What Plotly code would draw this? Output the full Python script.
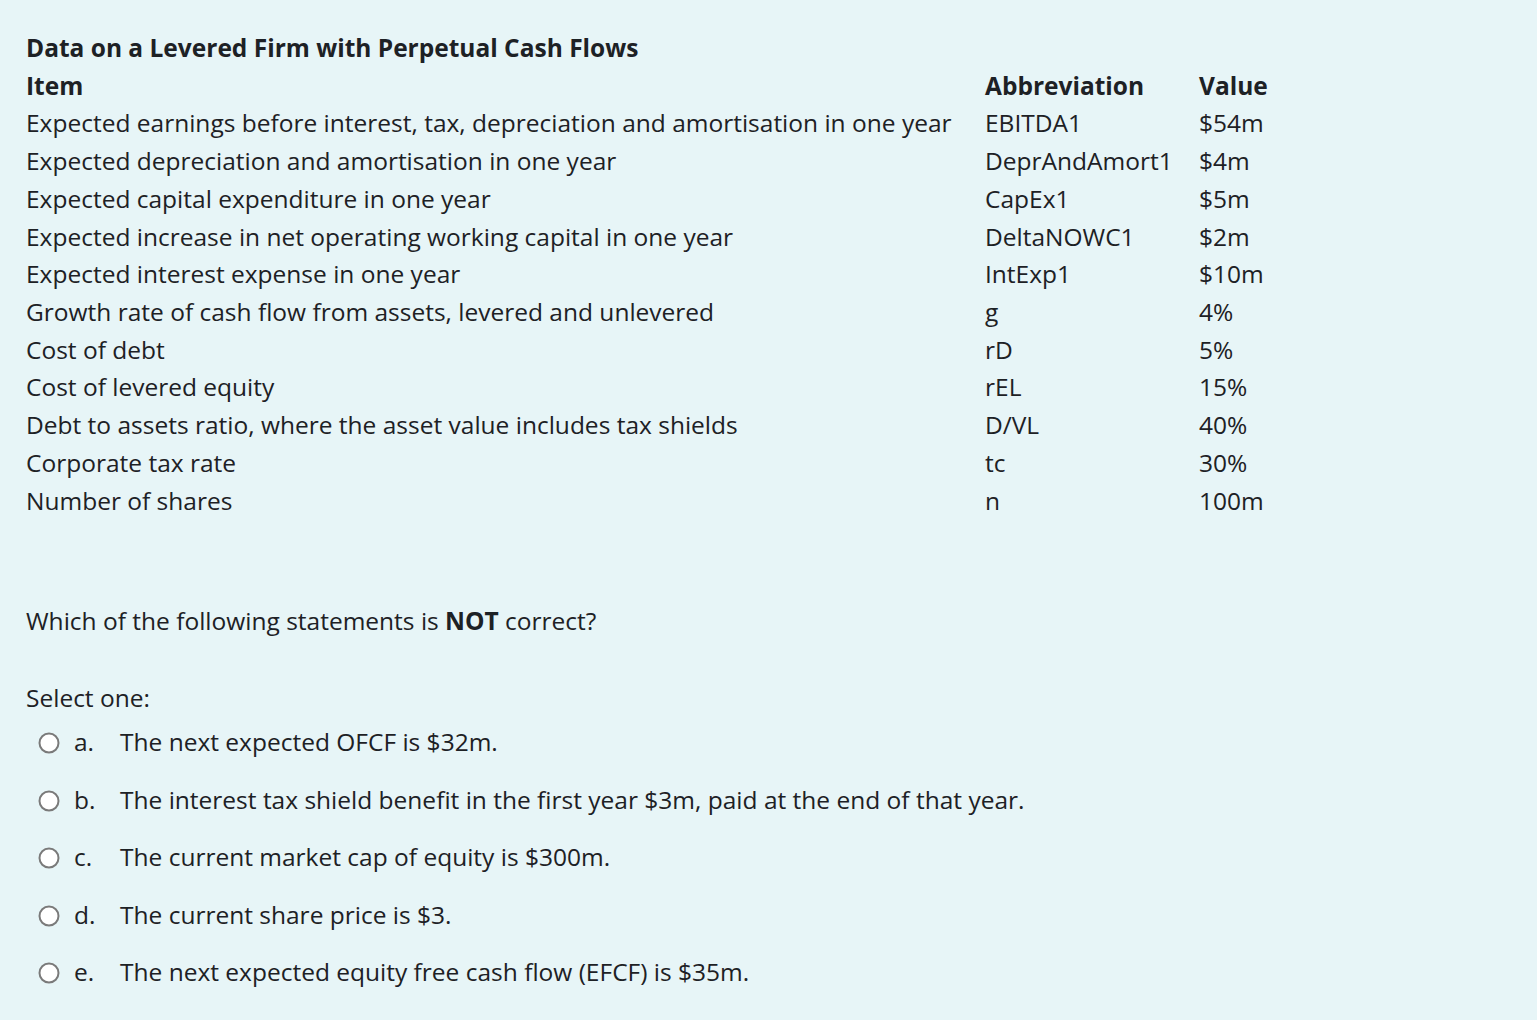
import plotly.graph_objects as go

title = "Data on a Levered Firm with Perpetual Cash Flows"
headers = ["Item", "Abbreviation", "Value"]
items = [
    "Expected earnings before interest, tax, depreciation and amortisation in one year",
    "Expected depreciation and amortisation in one year",
    "Expected capital expenditure in one year",
    "Expected increase in net operating working capital in one year",
    "Expected interest expense in one year",
    "Growth rate of cash flow from assets, levered and unlevered",
    "Cost of debt",
    "Cost of levered equity",
    "Debt to assets ratio, where the asset value includes tax shields",
    "Corporate tax rate",
    "Number of shares",
]
abbrevs = ["EBITDA1", "DeprAndAmort1", "CapEx1", "DeltaNOWC1", "IntExp1", "g", "rD", "rEL", "D/VL", "tc", "n"]
values = ["$54m", "$4m", "$5m", "$2m", "$10m", "4%", "5%", "15%", "40%", "30%", "100m"]
row_y = [126, 164, 202, 240, 277, 315, 353, 390, 428, 466, 504]
question = "Which of the following statements is <b>NOT</b> correct?"
letters = ["a.", "b.", "c.", "d.", "e."]
options = [
    "The next expected OFCF is $32m.",
    "The interest tax shield benefit in the first year $3m, paid at the end of that year.",
    "The current market cap of equity is $300m.",
    "The current share price is $3.",
    "The next expected equity free cash flow (EFCF) is $35m.",
]
option_y = [745, 803, 860, 918, 975]

FONT = "Open Sans"
TXT = "#1d2125"
SIZE = 24.5
col_x = [26, 985, 1199]

fig = go.Figure()

# table text
for x, col in zip(col_x, [items, abbrevs, values]):
    fig.add_trace(go.Scatter(x=[x] * len(col), y=row_y, mode="text", text=col,
                             textposition="middle right",
                             textfont=dict(family=FONT, size=SIZE, color=TXT)))
fig.add_trace(go.Scatter(x=col_x, y=[89] * 3, mode="text", text=[f"<b>{h}</b>" for h in headers],
                         textposition="middle right", textfont=dict(family=FONT, size=SIZE, color=TXT)))
fig.add_trace(go.Scatter(x=[26], y=[51], mode="text", text=[f"<b>{title}</b>"],
                         textposition="middle right", textfont=dict(family=FONT, size=SIZE, color=TXT)))
fig.add_trace(go.Scatter(x=[26, 26], y=[624, 701], mode="text", text=[question, "Select one:"],
                         textposition="middle right", textfont=dict(family=FONT, size=SIZE, color=TXT)))

# radio buttons and options
fig.add_trace(go.Scatter(x=[49] * 5, y=[y - 2 for y in option_y], mode="markers",
                         marker=dict(symbol="circle", size=19, color="white",
                                     line=dict(color="#7a7a7a", width=2))))
fig.add_trace(go.Scatter(x=[74] * 5, y=option_y, mode="text", text=letters,
                         textposition="middle right", textfont=dict(family=FONT, size=SIZE, color=TXT)))
fig.add_trace(go.Scatter(x=[120] * 5, y=option_y, mode="text", text=options,
                         textposition="middle right", textfont=dict(family=FONT, size=SIZE, color=TXT)))

fig.update_layout(
    width=1537, height=1020, margin=dict(l=0, r=0, t=0, b=0),
    paper_bgcolor="#e7f5f7", plot_bgcolor="#e7f5f7", showlegend=False,
    xaxis=dict(range=[0, 1537], visible=False, fixedrange=True),
    yaxis=dict(range=[1020, 0], visible=False, fixedrange=True),
)

fig.write_html("out.html", config={"displayModeBar": False},
               post_script="document.body.style.margin='0';document.body.style.overflow='hidden';")
